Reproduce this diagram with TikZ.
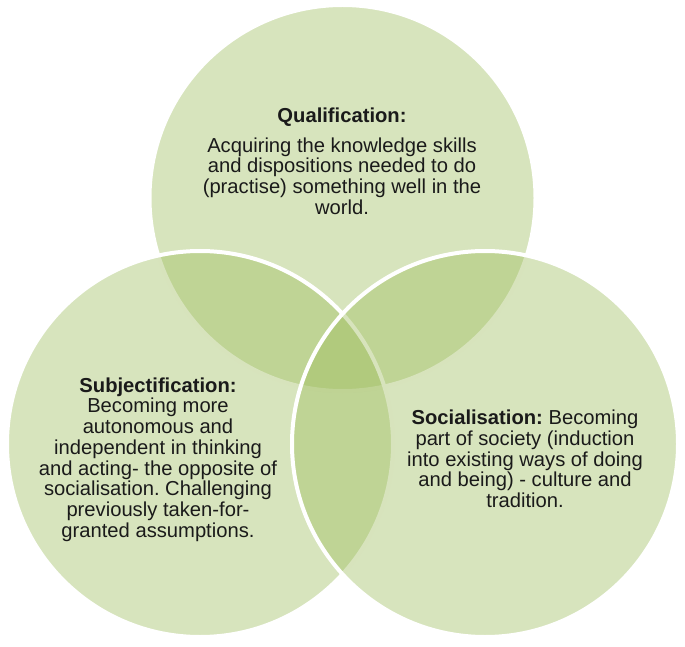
\documentclass[tikz,border=0pt]{standalone}
\usepackage{fontspec}
\setmainfont{Liberation Sans}
\frenchspacing
\definecolor{vgreen}{RGB}{155,187,89}
\definecolor{txt}{RGB}{26,26,26}
\tikzset{
  venn/.style={circle, minimum size=386pt, inner sep=0pt, fill=vgreen, fill opacity=0.4, draw=white, draw opacity=1, line width=4pt},
  lbl/.style={align=center, text=txt, inner sep=0pt, font=\fontsize{20.2}{20.7}\selectfont}
}
\begin{document}
\begin{tikzpicture}[x=1pt,y=1pt]
\useasboundingbox (0,0) rectangle (685,646);
\node[venn] (qual) at (342.5,448) {};
\node[venn] (subj) at (200,202) {};
\node[venn] (soc) at (485,202) {};
\node[lbl, font=\fontsize{20.2}{20.7}\selectfont\bfseries] (qualtitle) at (342,529) {Qualification:};
\node[lbl] (qualbody) at (342,470) {Acquiring the knowledge skills\\and dispositions needed to do\\(practise) something well in the\\world.};
\node[lbl] (subjtext) at (158,186.5) {\textbf{Subjectification:}\\Becoming more\\autonomous and\\independent in thinking\\and acting- the opposite of\\socialisation. Challenging\\previously taken-for-\\granted assumptions.};
\node[lbl] (soctext) at (525,187) {\textbf{Socialisation:} Becoming\\part of society (induction\\into existing ways of doing\\and being) - culture and\\tradition.};
\end{tikzpicture}
\end{document}
